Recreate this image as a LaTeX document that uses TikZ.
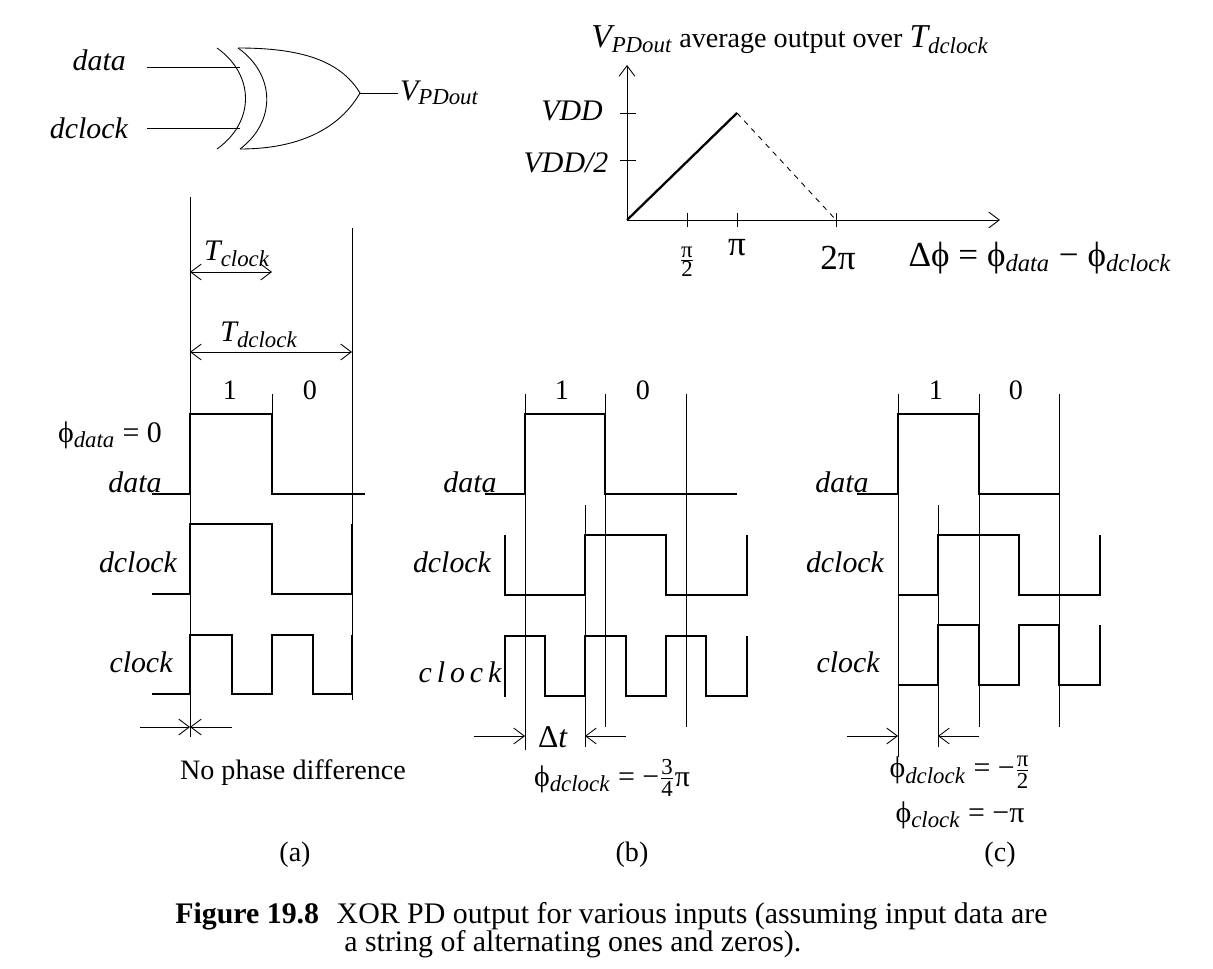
\documentclass[tikz,border=0pt]{standalone}
\usepackage{fontspec}
\setmainfont{Liberation Serif}[ItalicFont={Liberation Serif Italic},BoldFont={Liberation Serif Bold}]
\usetikzlibrary{arrows.meta}
\newcommand{\sz}[1]{\fontsize{#1}{#1}\selectfont}
\newcommand{\sfr}[2]{\ensuremath{\frac{\mbox{\sz{13}#1}}{\mbox{\sz{13}#2}}}}
\begin{document}
\begin{tikzpicture}[x=0.02cm,y=-0.02cm,
  wave/.style={line width=1.4pt},
  guide/.style={line width=0.5pt},
  lab/.style={font=\sz{17}\itshape},
  txt/.style={font=\sz{16}},
  arr/.style={line width=0.5pt,-{Straight Barb[length=6pt,width=9pt]}},
  darr/.style={line width=0.5pt,{Straight Barb[length=6pt,width=9pt]}-{Straight Barb[length=6pt,width=9pt]}}]
\useasboundingbox (0,0) rectangle (1213,969);
% gate
\coordinate (gin1) at (240,67); \coordinate (gin2) at (240,128);
\node[lab,anchor=east] (ldata) at (132,60) {data};
\node[lab,anchor=east] (ldcl) at (134,128) {dclock};
\draw[guide] (147,67) -- (gin1);
\draw[guide] (147,128) -- (gin2);
\draw[guide] (217,48) .. controls (255,75) and (255,122) .. (217,149);
\draw[guide] (238,48) .. controls (276,75) and (276,122) .. (240,149);
\draw[guide] (238,48) .. controls (300,48) and (340,60) .. (360,93) .. controls (340,128) and (300,149) .. (240,149);
\coordinate (gout) at (360,93);
\node[lab,anchor=west,inner sep=1pt] (vpd) at (398,93) {V\textsubscript{\sz{13}PDout}};
\draw[guide] (gout) -- (vpd.west);
% graph
\coordinate (o) at (627,220);
\draw[guide,-{Straight Barb[length=6pt,width=9pt]}] (o) -- (627,65);
\draw[guide,-{Straight Barb[length=6pt,width=9pt]}] (o) -- (1000,220);
\node[font=\sz{16}] (gt) at (790,40) {\textit{\sz{19}V\textsubscript{\sz{13}PDout}} average output over \textit{\sz{19}T\textsubscript{\sz{13}dclock}}};
\foreach \y in {113,160} \draw[guide] (620,\y) -- (636,\y);
\foreach \x in {687,737,836} \draw[guide] (\x,213) -- (\x,227);
\node[lab] (vdd) at (572,111) {VDD};
\node[lab] (vdd2) at (566,163) {VDD/2};
\draw[line width=1.3pt] (o) -- (737,113);
\draw[guide,dashed] (737,113) -- (836,220);
\node[inner sep=0pt] (p2) at (687,262) {\sfr{π}{2}};
\node[font=\sz{20}] (p1) at (737,248) {π};
\node[font=\sz{20}] (p3) at (838,258) {2π};
\node[font=\sz{20}] (dphi) at (1040,258) {Δϕ = ϕ\textsubscript{\sz{14}\textit{data}} − ϕ\textsubscript{\sz{14}\textit{dclock}}};
% ===== (a)
\draw[guide] (190,197) -- (190,737);
\draw[guide] (352,228) -- (352,700);
\draw[guide] (272,394) -- (272,414);
\draw[darr] (190,272) -- (272,272);
\draw[darr] (190,352) -- (352,352);
\node[lab] (tc) at (237,254) {T\textsubscript{\sz{13}clock}};
\node[lab] (tdc) at (259,335) {T\textsubscript{\sz{13}dclock}};
\node[txt] at (230,390) {1}; \node[txt] at (310,390) {0};
\node[font=\sz{17}] (phd) at (110,435) {ϕ\textsubscript{\sz{13}\textit{data}} = 0};
\node[lab] (a1) at (135,482) {data};
\node[lab] (a2) at (138,562) {dclock};
\node[lab] (a3) at (141,662) {clock};
\draw[wave] (152,494) -- (190,494) -- (190,414) -- (272,414) -- (272,494) -- (365,494);
\draw[wave] (152,594) -- (190,594) -- (190,524) -- (272,524) -- (272,594) -- (352,594) -- (352,524);
\draw[wave] (152,694) -- (190,694) -- (190,635) -- (232,635) -- (232,694) -- (272,694) -- (272,635) -- (313,635) -- (313,694) -- (352,694) -- (352,635);
\coordinate (aL) at (190,727);
\draw[arr] (140,727) -- (aL);
\draw[arr] (232,727) -- (aL);
\node[txt] (npd) at (293,773) {No phase difference};
\node[txt] (ca) at (295,855) {(a)};
% ===== (b)
\draw[guide] (525,394) -- (525,750);
\draw[guide] (605,394) -- (605,727);
\draw[guide] (686,394) -- (686,727);
\draw[guide] (585,505) -- (585,747);
\node[txt] at (562,390) {1}; \node[txt] at (643,390) {0};
\node[lab] at (470,482) {data};
\node[lab] at (452,562) {dclock};
\node[lab] at (460,672) {c\,l\,o\,c\,k};
\draw[wave] (485,494) -- (525,494) -- (525,414) -- (605,414) -- (605,494) -- (737,494);
\draw[wave] (505,535) -- (505,595) -- (585,595) -- (585,535) -- (666,535) -- (666,595) -- (747,595) -- (747,535);
\draw[wave] (505,697) -- (505,636) -- (545,636) -- (545,696) -- (585,696) -- (585,636) -- (626,636) -- (626,696) -- (666,696) -- (666,636) -- (706,636) -- (706,696) -- (747,696) -- (747,636);
\draw[arr] (474,736) -- (525,736);
\draw[arr] (626,736) -- (585,736);
\node[font=\sz{18}] at (553,737) {Δ\textit{t}};
\node[font=\sz{17}] at (612,778) {ϕ\textsubscript{\sz{13}\textit{dclock}} = −\sfr{3}{4}π};
\node[txt] at (632,855) {(b)};
% ===== (c)
\draw[guide] (898,394) -- (898,757);
\draw[guide] (979,394) -- (979,727);
\draw[guide] (1059,394) -- (1059,727);
\draw[guide] (938,505) -- (938,747);
\node[txt] at (936,390) {1}; \node[txt] at (1016,390) {0};
\node[lab] at (842,482) {data};
\node[lab] at (845,562) {dclock};
\node[lab] at (848,662) {clock};
\draw[wave] (857,494) -- (898,494) -- (898,414) -- (979,414) -- (979,494) -- (1059,494);
\draw[wave] (898,595) -- (938,595) -- (938,535) -- (1019,535) -- (1019,595) -- (1100,595) -- (1100,535);
\draw[wave] (898,685) -- (938,685) -- (938,625) -- (979,625) -- (979,685) -- (1019,685) -- (1019,625) -- (1059,625) -- (1059,685) -- (1100,685) -- (1100,625);
\draw[arr] (847,736) -- (898,736);
\draw[arr] (979,736) -- (938,736);
\node[font=\sz{17}] at (960,772) {ϕ\textsubscript{\sz{13}\textit{dclock}} = −\sfr{π}{2}};
\node[font=\sz{17}] at (960,815) {ϕ\textsubscript{\sz{13}\textit{clock}} = −π};
\node[txt] at (1000,855) {(c)};
% caption
\node[font=\sz{17},anchor=north west,align=left,inner sep=0pt] (cap1) at (175,902) {\textbf{Figure 19.8}\hspace{10pt}XOR PD output for various inputs (assuming input data are};
\node[font=\sz{17},anchor=north west,align=left,inner sep=0pt] (cap2) at (344,930) {a string of alternating ones and zeros).};
\end{tikzpicture}
\end{document}
